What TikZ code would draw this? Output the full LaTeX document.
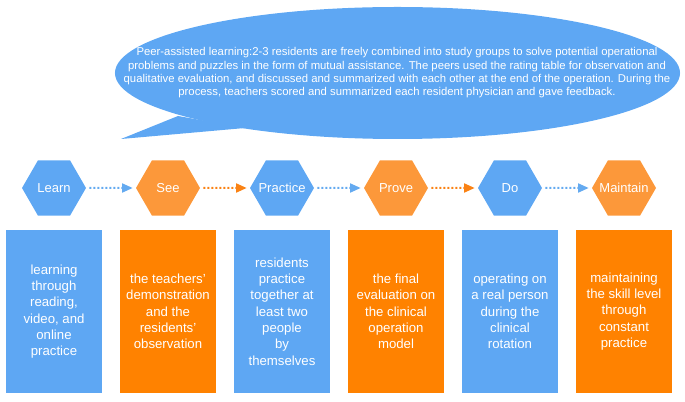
\documentclass[tikz,border=0pt]{standalone}
\usepackage{fontspec}
\setmainfont{Liberation Sans}
\usetikzlibrary{shapes.geometric,arrows.meta}
\definecolor{skyblue}{RGB}{94,167,243}
\definecolor{hexorange}{RGB}{252,152,58}
\definecolor{boxorange}{RGB}{255,130,0}
\definecolor{flowblue}{RGB}{100,170,240}
\definecolor{floworange}{RGB}{250,130,20}

\begin{document}
\begin{tikzpicture}[x=0.75pt,y=-0.75pt,>={Triangle[length=8pt,width=6.75pt]},
  hex/.style={regular polygon,regular polygon sides=6,minimum size=48pt,inner sep=0pt,fill=#1,text=white,font=\fontsize{9.75}{12}\selectfont},
  card/.style={fill=#1,text=white,minimum width=72pt,minimum height=122.25pt,inner sep=0pt,align=center,font=\fontsize{9.9}{12.2}\selectfont},
  flow/.style={draw=#1,line width=1.5pt,dash pattern=on 1.5pt off 1.5pt,->,shorten <=2.25pt,shorten >=2.25pt}]
  \useasboundingbox (0,0) rectangle (685,402);
  \fill[skyblue] (397.5,73) ellipse [x radius=211.9pt, y radius=49.5pt];
  \fill[skyblue] (178,116) -- (121,139) -- (245,128) -- cycle;
  \node[text=white,align=center,font=\fontsize{8.5}{10}\selectfont] (note) at (397,73)
    {Peer-assisted learning:2-3 residents are freely combined into study groups to solve potential operational\\
     problems and puzzles in the form of mutual assistance. The peers used the rating table for observation and\\
     qualitative evaluation, and discussed and summarized with each other at the end of the operation. During the\\
     process, teachers scored and summarized each resident physician and gave feedback.};
  \foreach \name/\txt/\col [count=\i from 0] in {learn/Learn/skyblue, see/See/hexorange, practice/Practice/skyblue,
      prove/Prove/hexorange, do/Do/skyblue, maintain/Maintain/hexorange}
    \node[hex=\col] (\name) at (54+114*\i,188) {\makebox[0pt]{\txt}};
  \draw[flow=flowblue] (learn) -- (see);
  \draw[flow=floworange] (see) -- (practice);
  \draw[flow=flowblue] (practice) -- (prove);
  \draw[flow=floworange] (prove) -- (do);
  \draw[flow=flowblue] (do) -- (maintain);
  \node[card=skyblue] (learnbox) at (54,311.5) {learning\\through\\reading,\\video, and\\online\\practice};
  \node[card=boxorange] (seebox) at (168,311.5) {the teachers'\\demonstration\\and the\\residents'\\observation};
  \node[card=skyblue] (practicebox) at (282,311.5) {residents\\practice\\together at\\least two\\people\\by\\themselves};
  \node[card=boxorange] (provebox) at (396,311.5) {the final\\evaluation on\\the clinical\\operation\\model};
  \node[card=skyblue] (dobox) at (510,311.5) {operating on\\a real person\\during the\\clinical\\rotation};
  \node[card=boxorange] (maintainbox) at (624,311.5) {maintaining\\the skill level\\through\\constant\\practice};
\end{tikzpicture}
\end{document}
